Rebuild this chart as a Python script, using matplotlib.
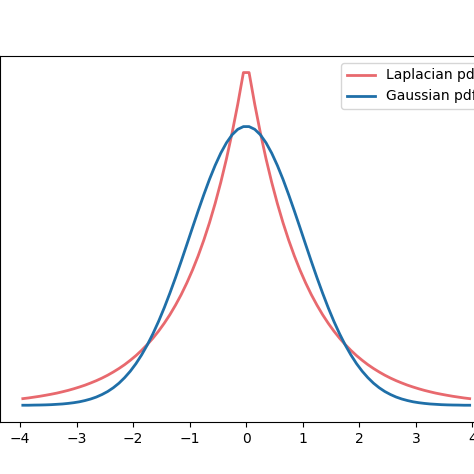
import matplotlib
matplotlib.use('Agg')
import matplotlib.pyplot as plt

xPoints = [-3.95, -3.85, -3.75, -3.65, -3.55, -3.45, -3.35, -3.25, -3.15, -3.05,
           -2.95, -2.85, -2.75, -2.65, -2.55, -2.45, -2.35, -2.25, -2.15, -2.05,
           -1.95, -1.85, -1.75, -1.65, -1.55, -1.45, -1.35, -1.25, -1.15, -1.05,
           -0.95, -0.85, -0.75, -0.65, -0.55, -0.45, -0.35, -0.25, -0.15, -0.05,
           0.05, 0.15, 0.25, 0.35, 0.45, 0.55, 0.65, 0.75, 0.85, 0.95,
           1.05, 1.15, 1.25, 1.35, 1.45, 1.55, 1.65, 1.75, 1.85, 1.95,
           2.05, 2.15, 2.25, 2.35, 2.45, 2.55, 2.65, 2.75, 2.85, 2.95,
           3.05, 3.15, 3.25, 3.35, 3.45, 3.55, 3.65, 3.75, 3.85, 3.95]

laplacianValues = [0.0096, 0.0106, 0.0118, 0.0130, 0.0144, 0.0159, 0.0175, 0.0194, 0.0214, 0.0237,
                   0.0262, 0.0289, 0.0320, 0.0353, 0.0390, 0.0431, 0.0477, 0.0527, 0.0582, 0.0644,
                   0.0711, 0.0786, 0.0869, 0.0960, 0.1061, 0.1173, 0.1296, 0.1433, 0.1583, 0.1750,
                   0.1934, 0.2137, 0.2362, 0.2610, 0.2885, 0.3188, 0.3523, 0.3894, 0.4304, 0.4756,
                   0.4756, 0.4304, 0.3894, 0.3523, 0.3188, 0.2885, 0.2610, 0.2362, 0.2137, 0.1934,
                   0.1750, 0.1583, 0.1433, 0.1296, 0.1173, 0.1061, 0.0960, 0.0869, 0.0786, 0.0711,
                   0.0644, 0.0582, 0.0527, 0.0477, 0.0431, 0.0390, 0.0353, 0.0320, 0.0289, 0.0262,
                   0.0237, 0.0214, 0.0194, 0.0175, 0.0159, 0.0144, 0.0130, 0.0118, 0.0106, 0.0096]

gaussianValues = [0.0002, 0.0002, 0.0004, 0.0005, 0.0007, 0.0010, 0.0015, 0.0020, 0.0028, 0.0038,
                  0.0051, 0.0069, 0.0091, 0.0119, 0.0155, 0.0198, 0.0252, 0.0317, 0.0396, 0.0488,
                  0.0596, 0.0721, 0.0863, 0.1023, 0.1200, 0.1394, 0.1604, 0.1826, 0.2059, 0.2299,
                  0.2541, 0.2780, 0.3011, 0.3230, 0.3429, 0.3605, 0.3752, 0.3867, 0.3945, 0.3984,
                  0.3984, 0.3945, 0.3867, 0.3752, 0.3605, 0.3429, 0.3230, 0.3011, 0.2780, 0.2541,
                  0.2299, 0.2059, 0.1826, 0.1604, 0.1394, 0.1200, 0.1023, 0.0863, 0.0721, 0.0596,
                  0.0488, 0.0396, 0.0317, 0.0252, 0.0198, 0.0155, 0.0119, 0.0091, 0.0069, 0.0051,
                  0.0038, 0.0028, 0.0020, 0.0015, 0.0010, 0.0007, 0.0005, 0.0004, 0.0002, 0.0002]


def main():
    fig = plt.figure(figsize=(4.74, 4.74), dpi=100)
    # the picture is a crop of a wider figure: axes run past the right edge
    ax = fig.add_axes([0.001, 0.110, 1.037, 0.772])
    ax.plot(xPoints, laplacianValues, color='#e8696e', lw=2, label='Laplacian pdf')
    ax.plot(xPoints, gaussianValues, color='#1f6fa8', lw=2, label='Gaussian pdf')
    ax.set_xticks([-4, -3, -2, -1, 0, 1, 2, 3, 4])
    # y ticks and labels fall outside the cropped picture
    ax.tick_params(axis='y', left=False, labelleft=False)
    ax.legend(loc='upper right')
    fig.savefig('out.png', dpi=100)


if __name__ == '__main__':
    main()
